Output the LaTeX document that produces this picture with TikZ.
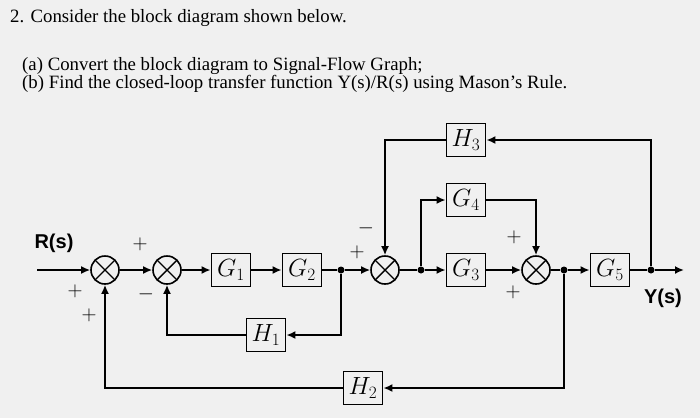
\documentclass[tikz,border=0pt]{standalone}
\usepackage{fontspec}
\setmainfont{Liberation Serif}
\newfontfamily\lsans{Liberation Sans}
\usetikzlibrary{arrows.meta}
\begin{document}
\begin{tikzpicture}[x=1pt,y=-1pt,
  blk/.style={draw,line width=1.8pt,minimum width=39pt,minimum height=33pt,inner sep=0pt,font=\fontsize{23}{23}\selectfont},
  sj/.style={draw,circle,line width=1.6pt,minimum size=28pt,inner sep=0pt,
    path picture={\draw[line width=1.4pt] (path picture bounding box.north west)--(path picture bounding box.south east)
      (path picture bounding box.north east)--(path picture bounding box.south west);}},
  dot/.style={circle,fill,inner sep=0pt,minimum size=7pt},
  ln/.style={line width=2pt},
  ar/.style={line width=2pt,-{Latex[length=9pt,width=8pt]}},
  sg/.style={font=\fontsize{21}{21}\selectfont},
  lab/.style={font=\lsans\bfseries\fontsize{20}{20}\selectfont}]
\fill[gray!12] (0,0) rectangle (700,418);
\useasboundingbox (0,0) rectangle (700,418);
\begin{scope}[every node/.style={anchor=west,inner sep=0pt,font=\fontsize{18.8}{20}\selectfont}]
\node (t1) at (10,18) {2. Consider the block diagram shown below.};
\node (t2) at (22,66) {(a) Convert the block diagram to Signal-Flow Graph;};
\node (t3) at (22,84) {(b) Find the closed-loop transfer function Y(s)/R(s) using Mason’s Rule.};
\end{scope}
\node[sj] (s1) at (105,270) {};
\node[sj] (s2) at (167,270) {};
\node[sj] (s3) at (385,270) {};
\node[sj] (s4) at (536,270) {};
\node[blk] (g1) at (231,270) {$G_1$};
\node[blk] (g2) at (302,270) {$G_2$};
\node[blk] (g3) at (466,270) {$G_3$};
\node[blk] (g4) at (466,200) {$G_4$};
\node[blk] (h3) at (466,140) {$H_3$};
\node[blk] (g5) at (610,270) {$G_5$};
\node[blk] (h1) at (266,335) {$H_1$};
\node[blk] (h2) at (363,388) {$H_2$};
\node[dot] (b1) at (341,270) {};
\node[dot] (b2) at (421,270) {};
\node[dot] (b3) at (564,270) {};
\node[dot] (b4) at (651,270) {};
\coordinate (in) at (37,270);
\coordinate (out) at (684,270);
\node[lab] (rs) at (54,243) {R(s)};
\node[lab] (ys) at (663,298) {Y(s)};
\draw[ar] (in)--(s1);
\draw[ar] (s1)--(s2);
\draw[ar] (s2)--(g1);
\draw[ar] (g1)--(g2);
\draw[ln] (g2)--(b1);
\draw[ar] (b1)--(s3);
\draw[ln] (s3)--(b2);
\draw[ar] (b2)--(g3);
\draw[ar] (b2)|-(g4);
\draw[ar] (g4.east)-|(s4);
\draw[ar] (g3)--(s4);
\draw[ln] (s4)--(b3);
\draw[ar] (b3)--(g5);
\draw[ln] (g5)--(b4);
\draw[ar] (b4)--(out);
\draw[ar] (b4)|-(h3);
\draw[ar] (h3)-|(s3);
\draw[ar] (b1)|-(h1);
\draw[ar] (h1)-|(s2);
\draw[ar] (b3)|-(h2);
\draw[ar] (h2)-|(s1);
\node[sg] (p1) at (75,291) {$+$};
\node[sg] (p2) at (89,315) {$+$};
\node[sg] (p3) at (140,244) {$+$};
\node[sg] (m1) at (146,294) {$-$};
\node[sg] (m2) at (366,228) {$-$};
\node[sg] (p4) at (357,252) {$+$};
\node[sg] (p5) at (514,237) {$+$};
\node[sg] (p6) at (513,292) {$+$};
\end{tikzpicture}
\end{document}
